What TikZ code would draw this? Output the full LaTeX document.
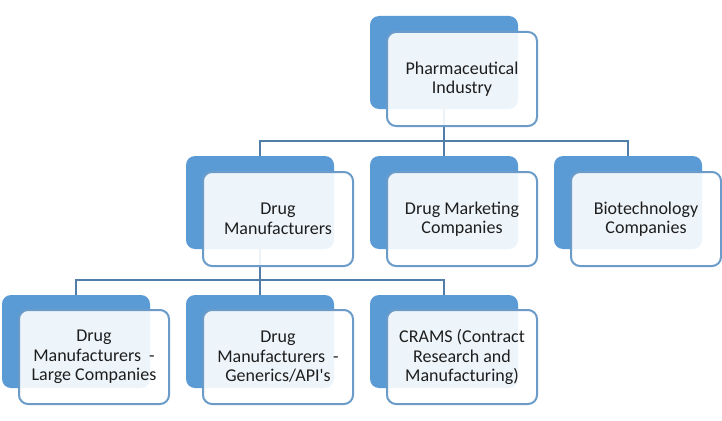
\documentclass[tikz,border=0pt]{standalone}
\usepackage{fontspec}
\setmainfont{Carlito}
\usetikzlibrary{positioning}

\definecolor{backblue}{HTML}{5B9BD5}
\definecolor{edgeblue}{HTML}{6A9BC9}
\definecolor{linkblue}{HTML}{507EA8}
\definecolor{textgray}{HTML}{1E1E1E}

\tikzset{
    backbox/.style={rectangle, rounded corners=9pt, fill=backblue, draw=none,
        minimum width=148pt, minimum height=93pt, inner sep=0pt, outer sep=0pt, anchor=north west},
    frontbox/.style={rectangle, rounded corners=9pt, draw=edgeblue, line width=2pt,
        fill=white, fill opacity=0.9, text opacity=1, text=textgray,
        minimum width=150pt, minimum height=94pt, inner sep=0pt, outer sep=0pt,
        align=center, font=\fontsize{18}{19.5}\selectfont},
    link/.style={draw=linkblue, line width=2pt}
}

\begin{document}
\begin{tikzpicture}[x=1pt, y=-1pt]

    \useasboundingbox (0,0) rectangle (722,420);

    % Back panels
    \node[backbox] (pharmaB) at (370,16) {};
    \node[backbox] (drugB) at (186,156) {};
    \node[backbox] (mktB) at (370,156) {};
    \node[backbox] (bioB) at (554,156) {};
    \node[backbox] (largeB) at (2,295) {};
    \node[backbox] (genB) at (186,295) {};
    \node[backbox] (cramsB) at (370,295) {};

    % Bus lines between levels
    \coordinate (busA) at (0,141);
    \coordinate (busB) at (0,280);

    \draw[link] (pharmaB.south) -- (pharmaB.south |- busA) -| (drugB.north);
    \draw[link] (pharmaB.south |- busA) -- (mktB.north);
    \draw[link] (pharmaB.south |- busA) -| (bioB.north);

    \draw[link] (drugB.south) -- (drugB.south |- busB) -| (largeB.north);
    \draw[link] (drugB.south |- busB) -- (genB.north);
    \draw[link] (drugB.south |- busB) -| (cramsB.north);

    % Front panels with the labels
    \node[frontbox, anchor=north west] (pharma) at ([shift={(17,16)}]pharmaB.north west)
        {Pharmaceutical\\Industry};
    \node[frontbox, anchor=north west] (drug) at ([shift={(17,16)}]drugB.north west)
        {Drug\\Manufacturers};
    \node[frontbox, anchor=north west] (mkt) at ([shift={(17,16)}]mktB.north west)
        {Drug Marketing\\Companies};
    \node[frontbox, anchor=north west] (bio) at ([shift={(17,16)}]bioB.north west)
        {Biotechnology\\Companies};
    \node[frontbox, anchor=north west] (large) at ([shift={(17,15)}]largeB.north west)
        {Drug\\Manufacturers \ -\\Large Companies};
    \node[frontbox, anchor=north west] (gen) at ([shift={(17,15)}]genB.north west)
        {Drug\\Manufacturers \ -\\Generics/API\textquotesingle s};
    \node[frontbox, anchor=north west] (crams) at ([shift={(17,15)}]cramsB.north west)
        {CRAMS (Contract\\Research and\\Manufacturing)};

\end{tikzpicture}
\end{document}
